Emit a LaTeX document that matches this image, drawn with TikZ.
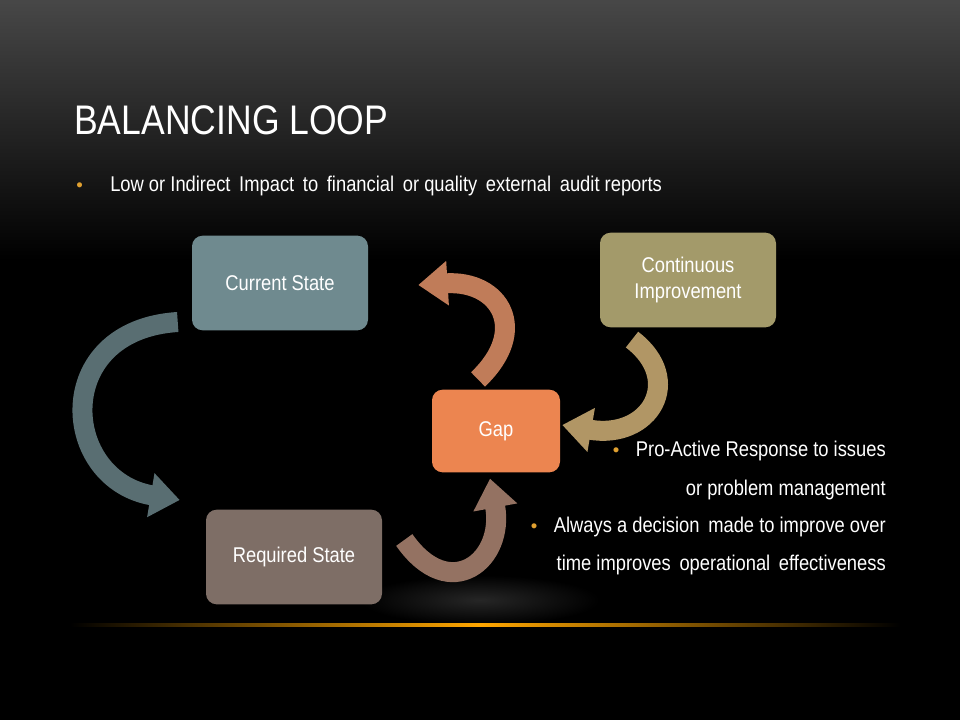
\documentclass[tikz,border=0pt]{standalone}
\usepackage{fontspec}
\setmainfont{Liberation Sans}
\newfontfamily\narrow{Liberation Sans}[FakeStretch=0.86]
\usetikzlibrary{arrows.meta}
\definecolor{curc}{HTML}{6F8A8F}
\definecolor{cic}{HTML}{A39A6A}
\definecolor{gapc}{HTML}{EC8550}
\definecolor{reqc}{HTML}{7E6E66}
\definecolor{bulc}{HTML}{E0A030}
\tikzset{
  box/.style={minimum width=132pt, minimum height=71pt, text=white,
    font=\narrow\fontsize{16}{19}\selectfont, align=center, inner sep=0pt},
  loop/.style={line width=15pt, -{Triangle[length=22pt,width=32pt]}},
  txt/.style={text=white, font=\narrow\fontsize{16}{19}\selectfont, inner sep=0pt},
  bul/.style={text=bulc, font=\fontsize{14}{16}\selectfont, inner sep=0pt}
}
\begin{document}
\begin{tikzpicture}[x=0.75pt,y=-0.75pt]
\useasboundingbox (0,0) rectangle (960,720);
% background
\fill[black] (0,0) rectangle (960,720);
\shade[top color=black!72!white, bottom color=black] (0,0) rectangle (960,260);
% glow
\shade[inner color=gray!60!black, outer color=black, opacity=0.5] (480,600) ellipse (120 and 25);
\shade[left color=black, right color=orange!70!yellow] (70,623) rectangle (480,626);
\shade[right color=black, left color=orange!70!yellow] (480,623) rectangle (900,626);
% title
\node[anchor=base west, text=white, font=\narrow\fontsize{31}{36}\selectfont, inner sep=0pt] (title) at (74,135) {BALANCING LOOP};
\node[bul, anchor=base west] (b0) at (76,192) {•};
\node[txt, anchor=base west] (t0) at (110,192) {Low or Indirect\, Impact\, to\, financial\, or quality\, external\, audit reports};
% boxes
\node[box, fill=curc, rounded corners=8pt] (cur) at (280,283) {Current State};
\node[box, fill=cic, rounded corners=8pt] (ci) at (688,280) {Continuous\\Improvement};
\node[box, fill=gapc, minimum width=96pt, minimum height=62pt, rounded corners=8pt] (gap) at (496,431) {Gap};
\node[box, fill=reqc, rounded corners=8pt] (req) at (294,557) {Required State};
% arrow end points beside the boxes
\coordinate (c1) at ([shift={(-14,39)}]cur.west);
\coordinate (r1) at ([shift={(-26,-57)}]req.west);
\coordinate (g2) at ([shift={(-18,-10)}]gap.north);
\coordinate (c2) at ([shift={(50,2)}]cur.east);
\coordinate (i3) at ([shift={(-56,12)}]ci.south);
\coordinate (g3) at ([shift={(2,-6)}]gap.east);
\coordinate (r4) at ([shift={(22,-17)}]req.east);
\coordinate (g4) at ([shift={(-6,6)}]gap.south);
% loop arrows
\draw[loop, curc!80!black] (c1) .. controls (50,330) and (60,480) .. (r1);
\draw[loop, gapc!60!reqc] (g2) .. controls (530,330) and (500,280) .. (c2);
\draw[loop, cic!80!gapc] (i3) .. controls (685,380) and (650,440) .. (g3);
\draw[loop, reqc!80!gapc] (r4) .. controls (450,605) and (505,560) .. (g4);
% right bullets
\node[txt, anchor=base east] (t1) at (886,456) {Pro-Active Response to issues};
\node[txt, anchor=base east] (t2) at (886,495) {or problem management};
\node[txt, anchor=base east] (t3) at (886,532) {Always a decision\, made to improve over};
\node[txt, anchor=base east] (t4) at (886,570) {time improves\, operational\, effectiveness};
\node[bul, anchor=base east] (b1) at ([xshift=-12pt]t1.base west) {•};
\node[bul, anchor=base east] (b3) at ([xshift=-12pt]t3.base west) {•};
\end{tikzpicture}
\end{document}
